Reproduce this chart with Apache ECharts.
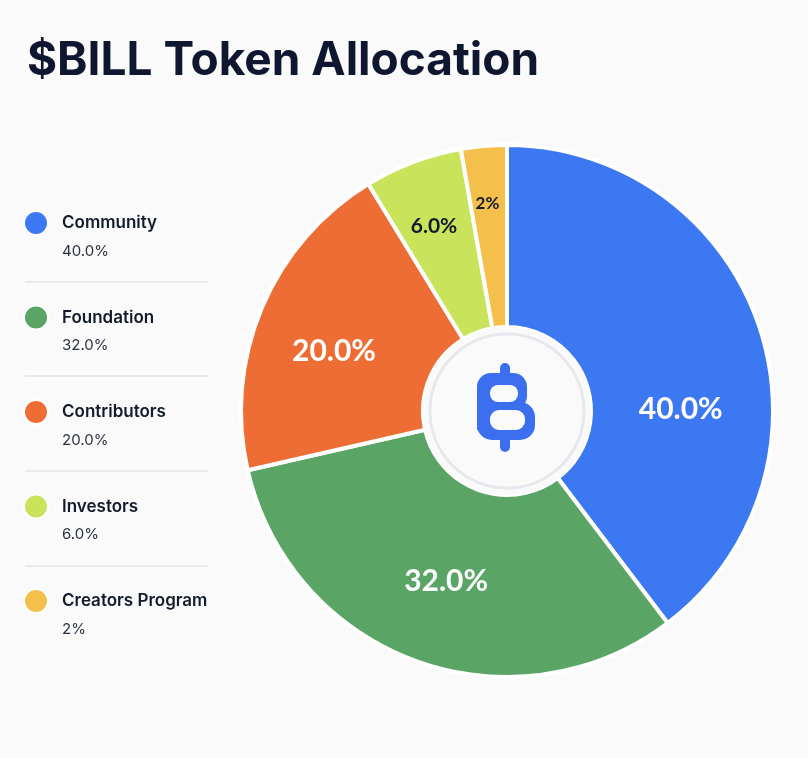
<!DOCTYPE html>
<html>
<head>
<meta charset="utf-8">
<script src="https://cdn.jsdelivr.net/npm/echarts@6/dist/echarts.min.js"></script>
<style>
html,body{margin:0;padding:0;background:#fafafa;}
#chart{width:808px;height:758px;}
</style>
</head>
<body>
<div id="chart"></div>
<script>
const categories = ['Community', 'Foundation', 'Contributors', 'Investors', 'Creators Program'];
const values = [40, 32, 20, 6, 2];
const pctLabels = ['40.0%', '32.0%', '20.0%', '6.0%', '2%'];
const colors = ['#3b78f2', '#5aa466', '#ed6d35', '#c9e45a', '#f4c04b'];

const labelStyles = [
  {color: '#ffffff', fontSize: 30},
  {color: '#ffffff', fontSize: 30},
  {color: '#ffffff', fontSize: 30},
  {color: '#141a2e', fontSize: 21},
  {color: '#141a2e', fontSize: 17}
];
const labelShift = [[5, 55], [0, 3], [-9, 9], [-10, -18], [-4, -30]];

const chart = echarts.init(document.getElementById('chart'), null, {renderer: 'canvas'});
const FONT = 'Inter, "Noto Sans", sans-serif';
const LFONT = 'Lato, Inter, sans-serif';
const CX = 507, CY = 411;
const BLUE = '#3b6ff0';
const BG = '#fafafa';

chart.setOption({
  backgroundColor: BG,
  animation: false,
  title: {
    text: '$BILL Token Allocation',
    left: 22, top: 33,
    textStyle: {fontFamily: FONT, fontSize: 46, fontWeight: 700, color: '#0f1730'}
  },
  legend: {
    orient: 'vertical',
    left: 23, top: 210,
    padding: 0,
    itemWidth: 24, itemHeight: 24,
    itemGap: 46,
    icon: 'circle',
    selectedMode: false,
    data: categories,
    formatter: function (name) {
      const i = categories.indexOf(name);
      return '{n|' + name + '}\n{p|' + pctLabels[i] + '}';
    },
    textStyle: {
      fontFamily: FONT,
      padding: [28, 0, 0, 9],
      rich: {
        n: {lineHeight: 28, fontSize: 17, fontWeight: 600, color: '#141a2e', fontFamily: FONT},
        p: {lineHeight: 28, fontSize: 15, fontWeight: 400, color: '#2b3042', fontFamily: FONT}
      }
    }
  },
  graphic: [
    {type: 'line', shape: {x1: 25, y1: 282, x2: 208, y2: 282}, style: {stroke: '#e2e4ea', lineWidth: 1.5}},
    {type: 'line', shape: {x1: 25, y1: 376, x2: 208, y2: 376}, style: {stroke: '#e2e4ea', lineWidth: 1.5}},
    {type: 'line', shape: {x1: 25, y1: 471, x2: 208, y2: 471}, style: {stroke: '#e2e4ea', lineWidth: 1.5}},
    {type: 'line', shape: {x1: 25, y1: 566, x2: 208, y2: 566}, style: {stroke: '#e2e4ea', lineWidth: 1.5}},
    {type: 'circle', shape: {cx: CX, cy: CY, r: 84}, style: {fill: BG}, z: 10},
    {type: 'circle', shape: {cx: CX, cy: CY, r: 77}, style: {fill: 'none', stroke: '#e6e8ee', lineWidth: 3}, z: 11},
    {type: 'rect', shape: {x: 477, y: 373, width: 50, height: 37, r: 14}, style: {fill: BLUE}, z: 12},
    {type: 'rect', shape: {x: 477, y: 402, width: 58, height: 38, r: 15}, style: {fill: BLUE}, z: 12},
    {type: 'rect', shape: {x: 477, y: 385, width: 14, height: 45}, style: {fill: BLUE}, z: 12},
    {type: 'rect', shape: {x: 490, y: 385, width: 28, height: 17, r: 8}, style: {fill: BG}, z: 13},
    {type: 'rect', shape: {x: 490, y: 410, width: 35, height: 20, r: 9}, style: {fill: BG}, z: 13},
    {type: 'line', shape: {x1: 505, y1: 368, x2: 505, y2: 374}, style: {stroke: BLUE, lineWidth: 10, lineCap: 'round'}, z: 12},
    {type: 'line', shape: {x1: 505, y1: 440, x2: 505, y2: 447}, style: {stroke: BLUE, lineWidth: 10, lineCap: 'round'}, z: 12}
  ],
  series: [{
    type: 'pie',
    center: [CX, CY],
    radius: [84, 266],
    startAngle: 90,
    clockwise: true,
    minAngle: 10,
    avoidLabelOverlap: false,
    silent: true,
    itemStyle: {borderColor: '#ffffff', borderWidth: 4},
    label: {
      show: true,
      position: 'inside',
      fontFamily: LFONT,
      fontWeight: 700,
      formatter: function (p) { return pctLabels[p.dataIndex]; }
    },
    labelLayout: function (p) {
      const s = labelShift[p.dataIndex];
      return {dx: s[0], dy: s[1]};
    },
    labelLine: {show: false},
    data: categories.map(function (c, i) {
      return {
        name: c,
        value: values[i],
        itemStyle: {color: colors[i]},
        label: labelStyles[i]
      };
    })
  }]
});
</script>
</body>
</html>
